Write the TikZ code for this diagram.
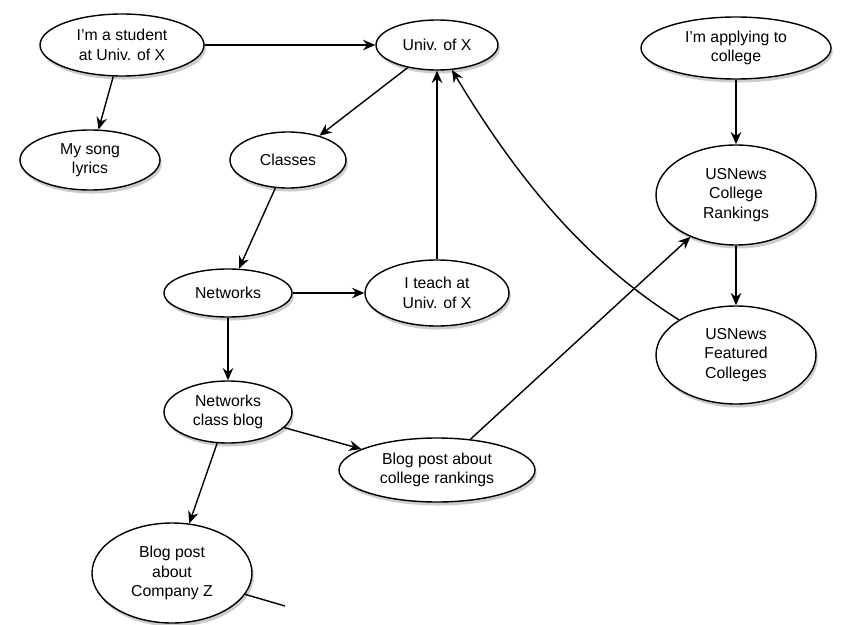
\documentclass[tikz,border=0pt]{standalone}
\usepackage{fontspec}
\setmainfont{Liberation Sans}
\usetikzlibrary{shapes.geometric,shadows,arrows.meta}
\begin{document}
\begin{tikzpicture}[x=0.02cm,y=-0.02cm,
  page/.style={ellipse,draw,thick,fill=white,inner sep=0pt,align=center,
    font=\fontsize{9}{11}\selectfont,drop shadow={shadow xshift=1pt,shadow yshift=-2pt,opacity=0.4}},
  sz/.style 2 args={minimum width=#1*0.02cm,minimum height=#2*0.02cm},
  link/.style={-{Stealth[length=7pt,width=6pt]},thick}]
\useasboundingbox (0,0) rectangle (862,625);
\node[page,sz={164}{62}] (a) at (122,45) {I'm a student\\at Univ. of X};
\node[page,sz={122}{50}] (b) at (437,45) {Univ. of X};
\node[page,sz={140}{60}] (c) at (90,160) {My song\\lyrics};
\node[page,sz={116}{56}] (d) at (288,160) {Classes};
\node[page,sz={190}{62}] (e) at (736,48) {I'm applying to\\college};
\node[page,sz={160}{100}] (f) at (736,195) {USNews\\College\\Rankings};
\node[page,sz={128}{48}] (g) at (228,293) {Networks};
\node[page,sz={144}{66}] (h) at (437,293) {I teach at\\Univ. of X};
\node[page,sz={160}{98}] (i) at (736,355) {USNews\\Featured\\Colleges};
\node[page,sz={128}{62}] (j) at (228,412) {Networks\\class blog};
\node[page,sz={196}{64}] (k) at (437,470) {Blog post about\\college rankings};
\node[page,sz={160}{100}] (l) at (172,573) {Blog post\\about\\Company Z};
\coordinate (out) at (285,606);
\draw[link] (a) -- (b);
\draw[link] (a) -- (c);
\draw[link] (b) -- (d);
\draw[link] (d) -- (g);
\draw[link] (g) -- (h);
\draw[link] (h) -- (b);
\draw[link] (g) -- (j);
\draw[link] (j) -- (k);
\draw[link] (j) -- (l);
\draw[link] (k) -- (f);
\draw[link] (e) -- (f);
\draw[link] (f) -- (i);
\draw[link] (i.north west) .. controls (600,270) and (530,200) .. (b);
\draw[thick] (l) -- (out);
\end{tikzpicture}
\end{document}
